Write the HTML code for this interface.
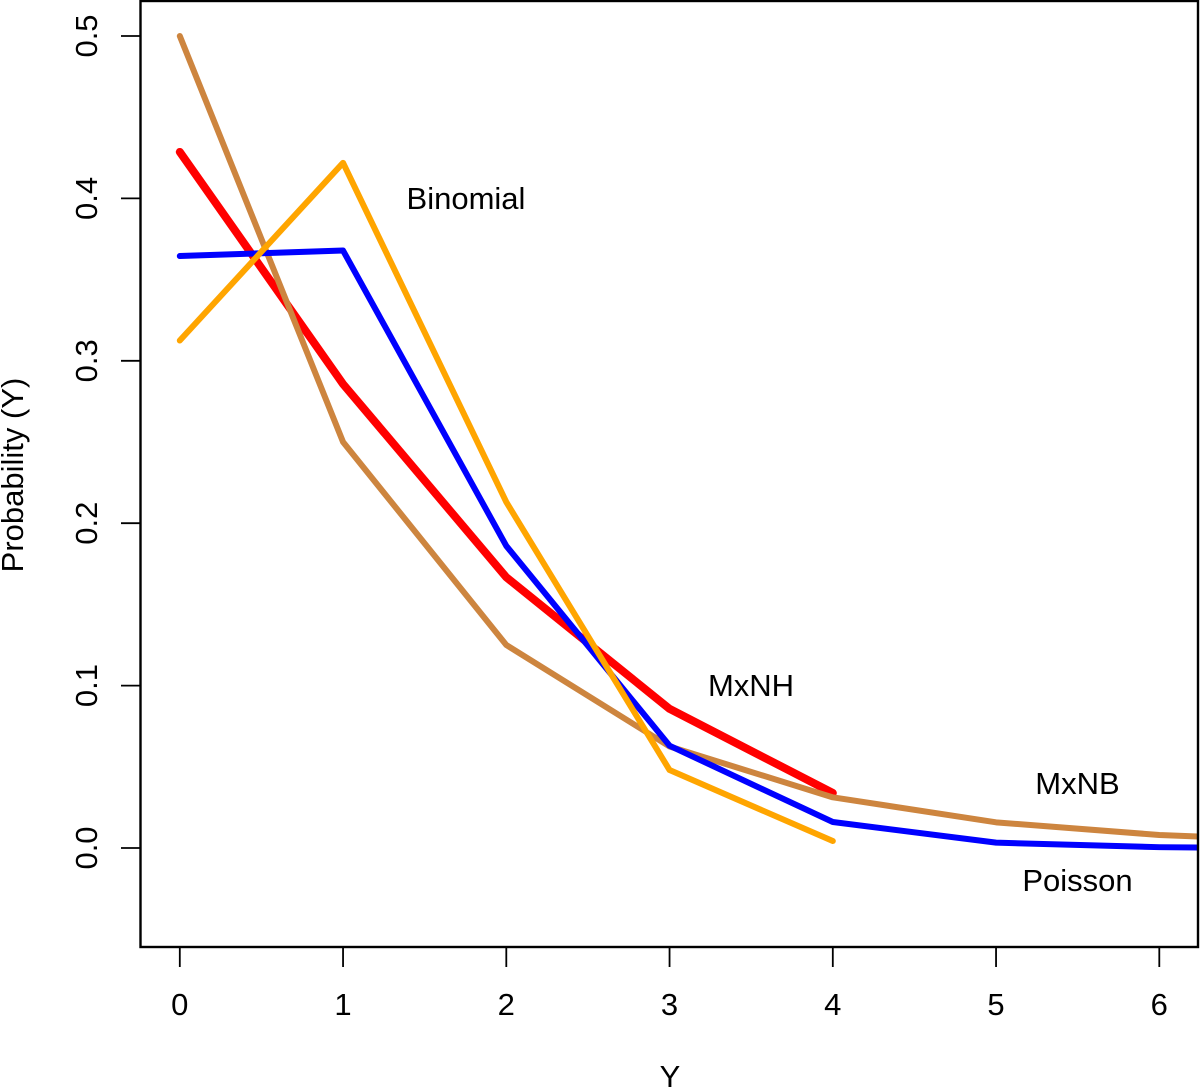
<!DOCTYPE html>
<html>
<head>
<meta charset="utf-8">
<style>
html,body{margin:0;padding:0;background:#fff;}
svg{display:block;}
text{font-family:"Liberation Sans",sans-serif;fill:#000;font-size:31px;}
</style>
</head>
<body>
<svg id="chart" xmlns="http://www.w3.org/2000/svg" width="1200" height="1088" viewBox="0 0 1200 1088">
<defs><clipPath id="plot-clip"><rect x="140" y="1" width="1058" height="946"></rect></clipPath></defs>
<rect width="1200" height="1088" fill="#fff"></rect>
<g id="series" clip-path="url(#plot-clip)"></g>
<rect x="140.5" y="1" width="1057.5" height="946" fill="none" stroke="#000" stroke-width="2.4"></rect>
<g id="axes"></g>
<text x="670" y="1087" text-anchor="middle">Y</text>
<text transform="translate(23,475) rotate(-90)" text-anchor="middle">Probability (Y)</text>
<text x="466" y="209" text-anchor="middle">Binomial</text>
<text x="751" y="696" text-anchor="middle">MxNH</text>
<text x="1077.500" y="794" text-anchor="middle">MxNB</text>
<text x="1077.500" y="891" text-anchor="middle">Poisson</text>
</svg>
<script>
const xCategories = [0, 1, 2, 3, 4, 5, 6, 6.25];
const xTickLabels = ["0", "1", "2", "3", "4", "5", "6"];
const yTickLabels = ["0.0", "0.1", "0.2", "0.3", "0.4", "0.5"];
const mxnhValues = [0.4286, 0.2857, 0.1667, 0.0857, 0.0339];
const poissonValues = [0.3645, 0.3679, 0.1860, 0.0630, 0.0160, 0.0033, 0.0005, 0.0003];
const binomialValues = [0.3125, 0.4219, 0.2130, 0.0480, 0.0043];
const mxnbValues = [0.5, 0.25, 0.125, 0.0625, 0.0312, 0.0158, 0.0080, 0.0070];

function xScale(v) { return 179.8 + v * 163.25; }
function yScale(v) { return 848 - v * 1624; }

const NS = 'http://www.w3.org/2000/svg';
const seriesGroup = document.getElementById('series');
const axesGroup = document.getElementById('axes');

function drawSeries(values, color, width, name) {
  const pts = values.map(function (v, i) { return xScale(xCategories[i]) + ',' + yScale(v); }).join(' ');
  const line = document.createElementNS(NS, 'polyline');
  line.setAttribute('points', pts);
  line.setAttribute('fill', 'none');
  line.setAttribute('stroke', color);
  line.setAttribute('stroke-width', width);
  line.setAttribute('stroke-linecap', 'round');
  line.setAttribute('stroke-linejoin', 'round');
  
  
  seriesGroup.appendChild(line);
}
drawSeries(mxnhValues, '#ff0000', 8, 'line-mxnh');
drawSeries(mxnbValues, '#cd853f', 6, 'line-mxnb');
drawSeries(poissonValues, '#0000ff', 6, 'line-poisson');
drawSeries(binomialValues, '#ffa500', 6, 'line-binomial');

xTickLabels.forEach(function (label) {
  const x = xScale(Number(label));
  const tick = document.createElementNS(NS, 'line');
  tick.setAttribute('x1', x);
  tick.setAttribute('x2', x);
  tick.setAttribute('y1', 947);
  tick.setAttribute('y2', 967);
  tick.setAttribute('stroke', '#000');
  tick.setAttribute('stroke-width', 1.8);
  
  
  axesGroup.appendChild(tick);
  const text = document.createElementNS(NS, 'text');
  text.setAttribute('x', x);
  text.setAttribute('y', 1015);
  text.setAttribute('text-anchor', 'middle');
  
  
  text.textContent = label;
  axesGroup.appendChild(text);
});

yTickLabels.forEach(function (label) {
  const y = yScale(Number(label));
  const tick = document.createElementNS(NS, 'line');
  tick.setAttribute('x1', 121);
  tick.setAttribute('x2', 140);
  tick.setAttribute('y1', y);
  tick.setAttribute('y2', y);
  tick.setAttribute('stroke', '#000');
  tick.setAttribute('stroke-width', 1.8);
  
  
  axesGroup.appendChild(tick);
  const text = document.createElementNS(NS, 'text');
  text.setAttribute('transform', 'translate(97,' + y + ') rotate(-90)');
  text.setAttribute('text-anchor', 'middle');
  
  
  text.textContent = label;
  axesGroup.appendChild(text);
});
</script>
</body>
</html>
